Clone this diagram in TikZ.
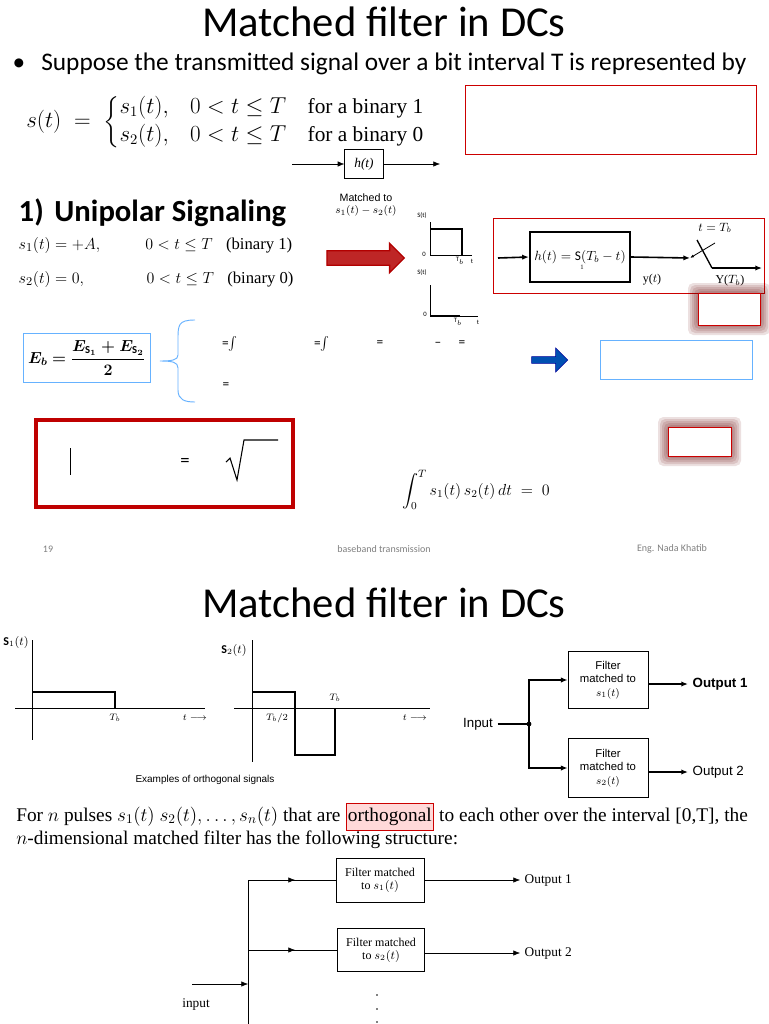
\documentclass[tikz,border=0pt]{standalone}
\usepackage{amsmath,amssymb,bm}
\usepackage{fontspec}
\setmainfont{Carlito}
\newfontfamily\ser{Liberation Serif}
\newfontfamily\hel{Liberation Sans}
\usetikzlibrary{arrows.meta,shapes.arrows}
\tikzset{
 ar/.style={-{Latex[length=5pt,width=4pt]}},
 redbox/.style={draw=red!80!black,line width=0.7pt},
 bluebox/.style={draw=blue!50!cyan!60,line width=0.7pt},
 fbox/.style={draw,line width=0.6pt,align=center,inner sep=2pt},
 foot/.style={font=\fontsize{7.5}{9}\selectfont,text=gray},
 ptext/.style={font=\ser\fontsize{14.5}{16}\selectfont,inner sep=0pt},
}
\newcommand{\glowbox}[2]{%
 \foreach \g in {10,8,6,4,2}{\fill[red!40!black,opacity=0.12,rounded corners=4pt] ($#1+(-\g,-\g)$) rectangle ($#2+(\g,\g)$);}
 \fill[white] #1 rectangle #2; \draw[redbox] #1 rectangle #2;}
\usetikzlibrary{calc}
\begin{document}
\begin{tikzpicture}[x=0.75pt,y=-0.75pt]
\useasboundingbox[fill=white] (0,0) rectangle (768,1024);
% ---------- slide 1
\node (t1) at (384,22) {\fontsize{32}{36}\selectfont Matched filter in DCs};
\node[anchor=west] (b1) at (8,64) {\fontsize{19}{22}\selectfont \textbullet\hspace{12pt}Suppose the transmitted signal over a bit interval T is represented by};
\node[anchor=west,inner sep=0pt] (seq) at (26,122) {\ser\fontsize{16}{19}\selectfont $s(t)\;=\;\left\{\begin{array}{@{}l@{\quad}l@{\quad}l}s_1(t), & 0<t\le T & \text{for a binary 1}\\[2pt] s_2(t), & 0<t\le T & \text{for a binary 0}\end{array}\right.$};
\draw[redbox] (465,85) rectangle (756,154);
\node[draw,minimum width=29pt,minimum height=22pt] (h) at (364,164) {\ser\itshape h(t)};
\coordinate (hin) at (292,164); \coordinate (hout) at (440,164);
\draw[ar] (hin) -- (h.west); \draw[ar] (h.east) -- (hout);
\node[align=center,font=\hel\fontsize{8}{9}\selectfont] (mt) at (366,205) {Matched to\\ $s_1(t)-s_2(t)$};
\node[anchor=west,font=\bfseries\fontsize{23}{26}\selectfont] (up) at (14,213) {1)\hspace{8pt}Unipolar Signaling};
\node[anchor=west,font=\ser\fontsize{12.5}{14}\selectfont] (s1) at (14,245) {$s_1(t)=+A,$\hspace{34pt}$0<t\le T$\hspace{10pt}(binary 1)};
\node[anchor=west,font=\ser\fontsize{12.5}{14}\selectfont] (s2) at (14,279) {$s_2(t)=0,$\hspace{47pt}$0<t\le T$\hspace{10pt}(binary 0)};
\node[single arrow,draw=red!70!black,fill=red!70!black!85,minimum height=58pt,minimum width=22pt,single arrow head extend=4pt,line width=1pt] (ra) at (362,258) {};
% small graphs
\draw (430,222) -- (430,255) -- (472,255);
\draw[line width=1.2pt] (430,229) -- (462,229) -- (462,255);
\node[font=\tiny] at (422,216) {S(t)}; \node[font=\tiny] at (424,254) {0};
\node[font=\tiny] at (460,261) {T$_b$}; \node[font=\tiny] at (472,261) {t};
\node[font=\tiny] at (422,273) {S(t)};
\draw (430,285) -- (430,316) -- (478,316);
\draw[line width=1.4pt] (430,316) -- (460,316);
\node[font=\tiny] at (425,314) {0}; \node[font=\tiny] at (458,322) {T$_b$}; \node[font=\tiny] at (478,322) {t};
% receiver
\draw[redbox] (493,218) rectangle (764,293);
\node[draw,line width=1.5pt,minimum width=71pt,minimum height=38pt,font=\ser\fontsize{10}{11}\selectfont] (hb) at (580,257) {$h(t)=\mathrm{S}(T_b-t)$};
\node[font=\ser\tiny] at (582,267) {1};
\coordinate (rin) at (498,258);
\draw[line width=1.2pt,ar] (rin) -- (hb.west);
\coordinate (sw1) at (690,258); \coordinate (sw2) at (712,268); \coordinate (rout) at (762,268);
\draw[line width=1.2pt,ar] (hb.east) -- (sw1);
\draw[line width=1pt] (697,240) -- (sw2);
\draw[line width=0.6pt,-{Latex[length=3pt]}] (715,243) -- (690,258);
\draw[line width=1.2pt,ar] (sw2) -- (rout);
\node[font=\ser\fontsize{9}{10}\selectfont] at (652,280) {y($t$)};
\node[font=\ser\fontsize{9}{10}\selectfont] at (730,281) {Y($T_b$)};
\node[font=\ser\fontsize{9}{10}\selectfont] at (715,228) {$t=T_b$};
\glowbox{(698,293)}{(760,325)}
% Eb
\node[bluebox,minimum width=88pt,minimum height=37pt,font=\ser\fontsize{12}{14}\selectfont] (eb) at (87,358) {$\bm{E_b=\dfrac{E_{\mathrm{S}_1}+E_{\mathrm{S}_2}}{2}}$};
\draw[bluebox] (195,320) .. controls (178,320) and (178,325) .. (178,340) -- (178,355) .. controls (178,360) and (172,361) .. (160,361) .. controls (172,361) and (178,362) .. (178,368) -- (178,390) .. controls (178,400) and (185,402) .. (195,402);
\node at (230,344) {\fontsize{10}{12}\selectfont =$\int$};
\node at (322,344) {\fontsize{10}{12}\selectfont =$\int$};
\node at (380,344) {\fontsize{10}{12}\selectfont =};
\node at (438,344) {\fontsize{10}{12}\selectfont --};
\node at (462,344) {\fontsize{10}{12}\selectfont =};
\node at (226,386) {\fontsize{10}{12}\selectfont =};
\node[single arrow,fill=blue!55!cyan!70!black,draw=blue!60!black,minimum height=27pt,minimum width=18pt,single arrow head extend=3pt,inner sep=1pt] (ba) at (548,360) {};
\draw[bluebox] (600,340) rectangle (752,379);
% result box
\draw[draw=red!75!black,line width=2.5pt] (36,420) rectangle (293,507);
\draw (70,448) -- (70,475);
\node at (185,462) {\fontsize{14}{16}\selectfont =};
\draw[line width=0.8pt] (226,462) -- (230,458) -- (237,480) -- (244,440) -- (278,440);
\glowbox{(668,427)}{(731,456)}
\node[font=\ser\fontsize{12}{14}\selectfont] (orth) at (476,490) {$\displaystyle\int_0^T s_1(t)\,s_2(t)\,dt\;=\;0$};
\node[foot] at (48,549) {19};
\node[foot] at (384,549) {baseband transmission};
\node[foot] at (672,549) {Eng. Nada Khatib};
% ---------- slide 2
\node (t2) at (384,603) {\fontsize{32}{36}\selectfont Matched filter in DCs};
% S1 graph
\draw (32,640) -- (32,740); \draw (15,708) -- (205,708);
\draw[line width=1.1pt] (32,692) -- (115,692) -- (115,708);
\node[font=\ser\fontsize{9}{10}\selectfont] at (16,642) {$\mathbf{S}_1(t)$};
\node[font=\ser\fontsize{7}{8}\selectfont] at (115,718) {$T_b$};
\node[font=\ser\fontsize{7}{8}\selectfont] at (195,718) {$t\longrightarrow$};
% S2 graph
\draw (252,640) -- (252,762); \draw (234,708) -- (430,708);
\draw[line width=1.1pt] (252,692) -- (295,692) -- (295,755) -- (335,755) -- (335,708);
\node[font=\ser\fontsize{9}{10}\selectfont] at (234,650) {$\mathbf{S}_2(t)$};
\node[font=\ser\fontsize{7}{8}\selectfont] at (277,718) {$T_b/2$};
\node[font=\ser\fontsize{7}{8}\selectfont] at (335,698) {$T_b$};
\node[font=\ser\fontsize{7}{8}\selectfont] at (415,718) {$t\longrightarrow$};
\node[font=\hel\fontsize{7.5}{9}\selectfont] at (205,780) {Examples of orthogonal signals};
% two-filter diagram
\node[fbox,minimum width=60pt,minimum height=43pt,font=\hel\fontsize{8.5}{10}\selectfont] (fa) at (608,680) {Filter\\matched to\\$s_1(t)$};
\node[fbox,minimum width=60pt,minimum height=44pt,font=\hel\fontsize{8.5}{10}\selectfont] (fb) at (608,768) {Filter\\matched to\\$s_2(t)$};
\node[font=\hel\fontsize{10}{12}\selectfont] (inp) at (478,724) {Input};
\coordinate (j) at (529,724);
\draw[line width=1pt] (inp.east) -- (j); \fill (j) circle (1.8pt);
\draw[line width=1pt,ar] (j) |- (fa.west);
\draw[line width=1pt,ar] (j) |- (fb.west);
\node[font=\hel\bfseries\fontsize{10}{12}\selectfont,anchor=west] (o1) at (688,684) {Output 1};
\node[font=\hel\fontsize{10}{12}\selectfont,anchor=west] (o2) at (688,772) {Output 2};
\draw[line width=1.2pt,ar] (fa.east|-o1) -- (o1.west);
\draw[line width=1.2pt,ar] (fb.east|-o2) -- (o2.west);
% paragraph
\node[ptext,anchor=base west] (p1a) at (16,821) {For $n$ pulses $s_1(t)\ s_2(t),\ldots,s_n(t)$ that are\hspace{4pt}\null};
\node[ptext,anchor=base west,fill=red!15,draw=red!80!black,line width=0.8pt,inner ysep=3pt,inner xsep=1pt,text depth=4pt] (p1b) at (p1a.base east) {orthogonal};
\node[ptext,anchor=base west] (p1c) at (p1b.base east) {\null\hspace{4pt}to each other over the interval [0,T], the};
\node[ptext,anchor=base west] (p2) at (16,844) {$n$-dimensional matched filter has the following structure:};
% n-filter diagram
\node[fbox,minimum width=66pt,minimum height=33pt,font=\ser\fontsize{9}{10}\selectfont] (g1) at (380,880) {Filter matched\\to $s_1(t)$};
\node[fbox,minimum width=65pt,minimum height=32pt,font=\ser\fontsize{9}{10}\selectfont] (g2) at (381,950) {Filter matched\\to $s_2(t)$};
\coordinate (v1) at (248,880); \coordinate (v2) at (248,950); \coordinate (vb) at (248,1024);
\draw (v1) -- (vb);
\draw (v1) -- (g1.west); \draw[ar] (v1) -- (295,880);
\draw (v2) -- (g2.west); \draw[ar] (v2) -- (295,950);
\node[font=\ser\fontsize{10}{12}\selectfont,anchor=west] (q1) at (520,880) {Output 1};
\node[font=\ser\fontsize{10}{12}\selectfont,anchor=west] (q2) at (520,953) {Output 2};
\draw[ar] (g1.east) -- (q1.west);
\draw[ar] (g2.east|-q2) -- (q2.west);
\coordinate (ii) at (192,984);
\draw[ar] (ii) -- (248,984);
\node[font=\ser\fontsize{10}{12}\selectfont] at (196,1004) {input};
\foreach \yy in {995,1009,1022} \fill (377,\yy) circle (0.6pt);
\end{tikzpicture}
\end{document}
